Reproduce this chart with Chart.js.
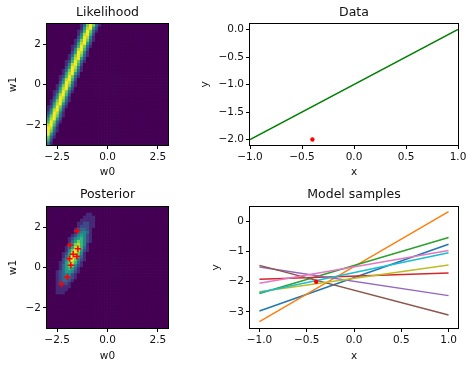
<!DOCTYPE html>
<html>
<head>
<meta charset="utf-8">
<title>Bayesian linear regression</title>
<script src="https://cdn.jsdelivr.net/npm/chart.js@4.4.1/dist/chart.umd.min.js"></script>
<style>
  html, body { margin: 0; background: #fff; }
  #fig { position: relative; width: 474px; height: 369px; overflow: hidden; }
  #fig canvas { position: absolute; }
</style>
</head>
<body>
<div id="fig">
  <canvas id="chart-likelihood" width="180" height="185" style="left:0;top:0"></canvas>
  <canvas id="chart-data" width="294" height="185" style="left:180px;top:0"></canvas>
  <canvas id="chart-posterior" width="180" height="184" style="left:0;top:185px"></canvas>
  <canvas id="chart-samples" width="294" height="184" style="left:180px;top:185px"></canvas>
</div>
<script>
// Observed point and the true line
const dataX = [-0.4];
const dataY = [-2.0];
const trueLineX = [-1, 1];
const trueLineY = [-2, 0];

// Posterior samples as (w0, w1) crosses
const sampleW0 = [-1.86, -1.50, -1.47, -1.82, -1.99, -2.28, -1.52, -1.89, -1.70];
const sampleW1 = [1.10, 1.82, 0.93, 0.11, -0.47, -0.82, 0.55, 0.44, 0.66];
// Same samples as lines, y at x = -1 and x = 1
const sampleX = [-1, 1];
const sampleYLeft = [-2.97, -3.32, -2.39, -1.92, -1.51, -1.46, -2.05, -2.33, -2.36];
const sampleYRight = [-0.76, 0.32, -0.54, -1.71, -2.46, -3.10, -0.97, -1.45, -1.04];

// Tick labels
const weightTicksX = [-2.5, 0, 2.5];
const weightTicksY = [-2, 0, 2];
const dataTicksX = [-1, -0.5, 0, 0.5, 1];
const dataTicksY = [-2, -1.5, -1, -0.5, 0];
const samplesTicksX = [-1, -0.5, 0, 0.5, 1];
const samplesTicksY = [-3, -2, -1, 0];

// Heatmaps: 40 x 40 cells over [-3, 3], rows from w1 = +3 down to -3
// each row: [first non-zero column, intensity levels 0-9]
const gridMin = -3, gridMax = 3, gridN = 40;
const likelihoodRows = [
  [11, '1379731'], [11, '158952'], [10, '1269731'], [10, '148962'], [10, '259841'],
  [9, '1379731'], [9, '158952'], [8, '1269731'], [8, '148962'], [8, '259841'],
  [7, '1379731'], [7, '158952'], [6, '1269731'], [6, '148962'], [6, '259841'],
  [5, '1379731'], [5, '158952'], [4, '1269731'], [4, '148962'], [4, '259841'],
  [3, '1379731'], [3, '158952'], [2, '1269731'], [2, '148962'], [2, '259841'],
  [1, '1379731'], [1, '158952'], [0, '1269731'], [0, '148962'], [0, '259841'],
  [0, '379731'], [0, '58952'], [0, '69731'], [0, '8962'], [0, '9841'],
  [0, '9731'], [0, '952'], [0, '731'], [0, '62'], [0, '41']
];
const posteriorRows = [
  [0, ''], [0, ''], [13, '11'], [12, '1111'], [11, '11111'],
  [10, '112211'], [10, '122211'], [9, '123321'], [9, '134431'], [8, '1245421'],
  [7, '12456421'], [7, '13576421'], [7, '2478641'], [6, '13588631'], [6, '14798521'],
  [5, '12589741'], [5, '13698631'], [5, '24797421'], [4, '12578631'], [4, '13577421'],
  [4, '1356531'], [3, '12355421'], [3, '1234421'], [3, '1233321'], [3, '123321'],
  [3, '12221'], [3, '11111'], [3, '1111'], [3, '111'], [0, ''],
  [0, ''], [0, ''], [0, ''], [0, ''], [0, ''],
  [0, ''], [0, ''], [0, ''], [0, ''], [0, '']
];

const sampleColors = ['#1f77b4', '#ff7f0e', '#2ca02c', '#d62728', '#9467bd', '#8c564b', '#e377c2', '#bcbd22', '#17becf'];

Chart.defaults.font.family = "'DejaVu Sans', sans-serif";
Chart.defaults.color = '#111';

// viridis colormap anchors at 0, 0.1, ..., 1
const viridisStops = ['#440154', '#482475', '#414487', '#355f8d', '#2a788e', '#21918c', '#22a884', '#44bf70', '#7ad151', '#bddf26', '#fde725'];
function viridis(v) {
    const t = Math.max(0, Math.min(1, v)) * 10;
    const i = Math.min(9, Math.floor(t)), f = t - i;
    const a = viridisStops[i], b = viridisStops[i + 1];
    const ch = (h, k) => parseInt(h.substr(1 + k * 2, 2), 16);
    const mix = k => Math.round(ch(a, k) + (ch(b, k) - ch(a, k)) * f);
    return `rgb(${mix(0)},${mix(1)},${mix(2)})`;
}

function heatDataset(rows) {
    const cell = (gridMax - gridMin) / gridN;
    const data = [], colors = [];
    rows.forEach(([start, levels], i) => {
        for (let j = 0; j < gridN; j++) {
            const k = j - start;
            const level = k >= 0 && k < levels.length ? Number(levels[k]) : 0;
            data.push({ x: gridMin + (j + 0.5) * cell, y: gridMax - (i + 0.5) * cell });
            colors.push(viridis(level / 9));
        }
    });
    return {
        data,
        order: 1,
        pointStyle: 'rect',
        pointBackgroundColor: colors,
        pointBorderWidth: 0,
        pointRadius: (c) => {
            const a = c.chart.chartArea;
            return a ? ((a.right - a.left) / gridN / 2 + 0.35) * Math.SQRT2 : 2;
        }
    };
}

const fmt = (d) => (v) => (v < 0 ? '\u2212' : '') + Math.abs(v).toFixed(d);
const smallFont = { size: 10.5 };

function scale(axis, { min, max, ticks, decimals, label, size, labelPad }) {
    return {
        type: 'linear', min, max,
        afterBuildTicks: s => { s.ticks = ticks.map(v => ({ value: v })); },
        afterFit: s => { if (axis === 'x') s.height = size; else s.width = size; },
        grid: { drawOnChartArea: false, drawTicks: true, tickLength: 4, color: '#000', tickColor: '#000' },
        border: { display: false },
        ticks: { font: smallFont, color: '#111', padding: 2, maxRotation: 0, autoSkip: false, callback: fmt(decimals) },
        title: { display: true, text: label, font: smallFont, color: '#111', padding: { top: labelPad, bottom: labelPad } }
    };
}

// black box round each plot area
const frame = {
    id: 'frame',
    afterDatasetsDraw(chart) {
        const { ctx, chartArea: a } = chart;
        ctx.save();
        ctx.strokeStyle = '#000';
        ctx.lineWidth = 1;
        ctx.strokeRect(Math.round(a.left) - 0.5, Math.round(a.top) - 0.5,
            Math.round(a.right) - Math.round(a.left) + 1, Math.round(a.bottom) - Math.round(a.top) + 1);
        ctx.restore();
    }
};

function options(scales, title, titlePad, right) {
    return {
        responsive: false,
        animation: false,
        events: [],
        layout: { padding: { left: 0, top: 0, right, bottom: 0 }, autoPadding: false },
        scales,
        plugins: {
            legend: { display: false },
            tooltip: { enabled: false },
            title: { display: true, text: title, fullSize: false, color: '#111', font: { size: 12.5, weight: 'normal' }, padding: titlePad }
        }
    };
}

const topTitle = { top: 5.5, bottom: 3.5 };
const bottomTitle = { top: 2.5, bottom: 4.5 };

// Likelihood
new Chart(document.getElementById('chart-likelihood'), {
    type: 'scatter',
    data: { datasets: [heatDataset(likelihoodRows)] },
    options: options({
        x: scale('x', { min: gridMin, max: gridMax, ticks: weightTicksX, decimals: 1, label: 'w0', size: 40, labelPad: 6.5 }),
        y: scale('y', { min: gridMin, max: gridMax, ticks: weightTicksY, decimals: 0, label: 'w1', size: 47, labelPad: 6.5 })
    }, 'Likelihood', topTitle, 12),
    plugins: [frame]
});

// Data
new Chart(document.getElementById('chart-data'), {
    type: 'scatter',
    data: {
        datasets: [
            { data: dataX.map((x, i) => ({ x, y: dataY[i] })), order: 0, pointRadius: 2.2, pointBorderWidth: 0, pointBackgroundColor: '#ff0000' },
            { data: trueLineX.map((x, i) => ({ x, y: trueLineY[i] })), order: 1, showLine: true, borderColor: '#008000', borderWidth: 1.5, pointRadius: 0 }
        ]
    },
    options: options({
        x: scale('x', { min: -1, max: 1, ticks: dataTicksX, decimals: 1, label: 'x', size: 40, labelPad: 6.5 }),
        y: scale('y', { min: -2.1, max: 0.1, ticks: dataTicksY, decimals: 1, label: 'y', size: 70, labelPad: 18.5 })
    }, 'Data', topTitle, 16),
    plugins: [frame]
});

// Posterior
new Chart(document.getElementById('chart-posterior'), {
    type: 'scatter',
    data: {
        datasets: [
            { data: sampleW0.map((x, i) => ({ x, y: sampleW1[i] })), order: 0, pointStyle: 'cross', pointRadius: 3.2, pointBorderWidth: 1.5, pointBorderColor: '#ff0000' },
            heatDataset(posteriorRows)
        ]
    },
    options: options({
        x: scale('x', { min: gridMin, max: gridMax, ticks: weightTicksX, decimals: 1, label: 'w0', size: 41, labelPad: 6.5 }),
        y: scale('y', { min: gridMin, max: gridMax, ticks: weightTicksY, decimals: 0, label: 'w1', size: 47, labelPad: 6.5 })
    }, 'Posterior', bottomTitle, 12),
    plugins: [frame]
});

// Model samples
const sampleLines = sampleYLeft.map((yl, i) => ({
    data: [{ x: sampleX[0], y: yl }, { x: sampleX[1], y: sampleYRight[i] }],
    order: sampleYLeft.length - i,
    showLine: true,
    borderColor: sampleColors[i],
    borderWidth: 1.5,
    pointRadius: 0
}));
new Chart(document.getElementById('chart-samples'), {
    type: 'scatter',
    data: {
        datasets: [
            { data: dataX.map((x, i) => ({ x, y: dataY[i] })), order: 0, pointRadius: 2.2, pointBorderWidth: 0, pointBackgroundColor: '#ff0000' },
            ...sampleLines
        ]
    },
    options: options({
        x: scale('x', { min: -1.1, max: 1.1, ticks: samplesTicksX, decimals: 1, label: 'x', size: 41, labelPad: 6.5 }),
        y: scale('y', { min: -3.53, max: 0.47, ticks: samplesTicksY, decimals: 0, label: 'y', size: 70, labelPad: 29.5 })
    }, 'Model samples', bottomTitle, 16),
    plugins: [frame]
});
</script>
</body>
</html>
